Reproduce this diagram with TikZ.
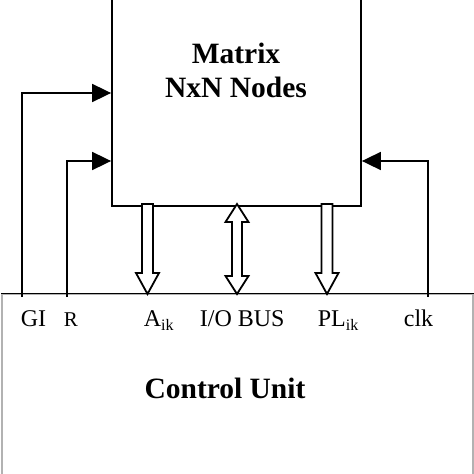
\documentclass[tikz,border=0pt]{standalone}
\usepackage{fontspec}
\setmainfont{Liberation Serif}
\usetikzlibrary{arrows.meta,calc}
\begin{document}
\begin{tikzpicture}[x=1pt,y=-1pt,line width=1.8pt,
  box/.style={draw=black,line width=1.8pt,fill=none,inner sep=0pt},
  cubox/.style={draw=black!30,line width=1.2pt,inner sep=0pt},
  sig/.style={line width=1.8pt,-{Triangle[length=19pt,width=18pt]}},
  title/.style={font=\fontsize{29.5}{34}\selectfont\bfseries,align=center,inner sep=0pt},
  lbl/.style={font=\fontsize{24}{26}\selectfont,anchor=base west,inner sep=0pt},
  hollow/.style={draw=black,line width=1.8pt,fill=white,line join=miter},
  downarrow/.pic={\draw[hollow] (-5.5,0) -- (5.5,0) -- (5.5,69) -- (11.5,69) -- (0,90) -- (-11.5,69) -- (-5.5,69) -- cycle;},
  dblarrow/.pic={\draw[hollow] (0,0) -- (11.5,18) -- (5,18) -- (5,72) -- (11.5,72) -- (0,90) -- (-11.5,72) -- (-5,72) -- (-5,18) -- (-11.5,18) -- cycle;}
]
\useasboundingbox (0,0) rectangle (474,474);
\clip (0,0) rectangle (474,474);
\fill[white] (0,0) rectangle (474,474);
% boxes
\node[box,minimum width=249pt,minimum height=236pt] (M) at (236.5,88) {};
\node[cubox,minimum width=471pt,minimum height=220pt] (C) at (237.5,404) {};
\draw[line width=1.8pt] (C.north west) -- (C.north east);
% titles
\node[title] (Mt) at (236,70.5) {Matrix\\NxN Nodes};
\node[title] (Ct) at (225,388) {Control Unit};
% signal lines
\coordinate (gi0) at (22,297);
\coordinate (gi1) at (M.west |- 0,93);
\coordinate (r0) at (67,297);
\coordinate (r1) at (M.west |- 0,161);
\coordinate (c0) at (428,297);
\coordinate (c1) at (M.east |- 0,161);
\draw[sig] (gi0) |- (gi1);
\draw[sig] (r0) |- (r1);
\draw[sig] (c0) |- (c1);
% hollow arrows
\coordinate (a0) at (147.5,204);
\coordinate (b0) at (237,204);
\coordinate (p0) at (327,204);
\pic at (a0) {downarrow};
\pic at (b0) {dblarrow};
\pic at (p0) {downarrow};
% labels
\node[lbl] (lgi) at (20,326) {GI};
\node[lbl,font=\fontsize{21}{24}\selectfont] (lr) at (63,326) {R};
\node[lbl] (la) at (143,326) {A\raisebox{-4pt}{\fontsize{16}{16}\selectfont ik}};
\node[lbl] (lb) at (199,326) {I/O BUS};
\node[lbl] (lp) at (317,326) {PL\raisebox{-4pt}{\fontsize{16}{16}\selectfont ik}};
\node[lbl] (lc) at (403,326) {clk};
\end{tikzpicture}
\end{document}
